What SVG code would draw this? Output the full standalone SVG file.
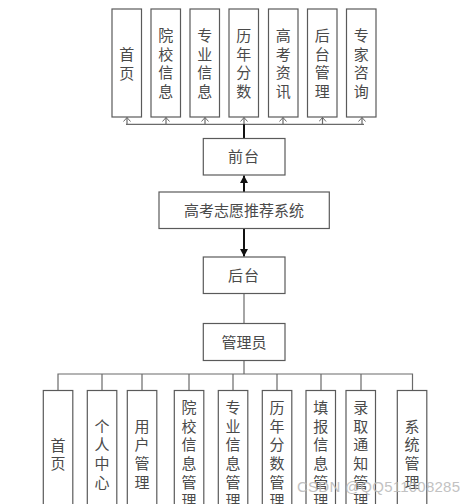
<svg xmlns="http://www.w3.org/2000/svg" width="474" height="504" viewBox="0 0 474 504">
<style>
.box{fill:#fff;stroke:#5a5a5a;stroke-width:1.2}
.t{font-family:"Noto Sans CJK SC","Noto Sans",sans-serif;font-size:15px;fill:#4a4a4a;text-anchor:middle}
.thin{fill:none;stroke:#6a6a6a;stroke-width:1.2}
.bold{fill:none;stroke:#111;stroke-width:2}
.wm{font-family:"Liberation Sans",Arial,sans-serif;font-size:15px;fill:#b8b8b8;opacity:0.85}
</style>
<defs>
<marker id="open" markerWidth="8" markerHeight="8" refX="7" refY="4" orient="auto" markerUnits="userSpaceOnUse" viewBox="0 0 8 8">
<path d="M3,0.5 L7,4 L3,7.5" fill="none" stroke="#6a6a6a" stroke-width="1"/>
</marker>
<marker id="solid" markerWidth="8" markerHeight="9" refX="7.5" refY="4.5" orient="auto" markerUnits="userSpaceOnUse" viewBox="0 0 8 9">
<path d="M0,0.5 L7.5,4.5 L0,8.5 Z" fill="#111"/>
</marker>
</defs>
<rect width="474" height="504" fill="#fff"/>

<g id="connectors">
<path class="thin" d="M126,124.3 H364"/>
<path class="thin" d="M127,124.3 V117.5" marker-end="url(#open)"/>
<path class="thin" d="M166,124.3 V117.5" marker-end="url(#open)"/>
<path class="thin" d="M205,124.3 V117.5" marker-end="url(#open)"/>
<path class="thin" d="M244,124.3 V117.5" marker-end="url(#open)"/>
<path class="thin" d="M283,124.3 V117.5" marker-end="url(#open)"/>
<path class="thin" d="M322.5,124.3 V117.5" marker-end="url(#open)"/>
<path class="thin" d="M362,124.3 V117.5" marker-end="url(#open)"/>
<path class="bold" d="M244,124.3 V138.5"/>
<path class="bold" d="M244,192 V175.5" marker-end="url(#solid)"/>
<path class="bold" d="M244,228.5 V256.5" marker-end="url(#solid)"/>
<path class="thin" d="M244,293.5 V323.5"/>
<path class="thin" d="M244,360.5 V374 M58,390.5 V374 H412.5 V390.5 M102,374 V390.5 M142,374 V390.5 M189,374 V390.5 M233,374 V390.5 M277,374 V390.5 M321,374 V390.5 M361,374 V390.5"/>
</g>

<g id="top-1"><rect class="box" x="112" y="9" width="29.5" height="108"/><text class="t"><tspan x="126.8" y="60">首</tspan><tspan x="126.8" dy="18.7">页</tspan></text></g>
<g id="top-2"><rect class="box" x="151" y="9" width="29.5" height="108"/><text class="t"><tspan x="165.8" y="41">院</tspan><tspan x="165.8" dy="18.7">校</tspan><tspan x="165.8" dy="18.7">信</tspan><tspan x="165.8" dy="18.7">息</tspan></text></g>
<g id="top-3"><rect class="box" x="190" y="9" width="29.5" height="108"/><text class="t"><tspan x="204.8" y="41">专</tspan><tspan x="204.8" dy="18.7">业</tspan><tspan x="204.8" dy="18.7">信</tspan><tspan x="204.8" dy="18.7">息</tspan></text></g>
<g id="top-4"><rect class="box" x="229" y="9" width="29.5" height="108"/><text class="t"><tspan x="243.8" y="41">历</tspan><tspan x="243.8" dy="18.7">年</tspan><tspan x="243.8" dy="18.7">分</tspan><tspan x="243.8" dy="18.7">数</tspan></text></g>
<g id="top-5"><rect class="box" x="268.5" y="9" width="29.5" height="108"/><text class="t"><tspan x="283.3" y="41">高</tspan><tspan x="283.3" dy="18.7">考</tspan><tspan x="283.3" dy="18.7">资</tspan><tspan x="283.3" dy="18.7">讯</tspan></text></g>
<g id="top-6"><rect class="box" x="307.5" y="9" width="29.5" height="108"/><text class="t"><tspan x="322.3" y="41">后</tspan><tspan x="322.3" dy="18.7">台</tspan><tspan x="322.3" dy="18.7">管</tspan><tspan x="322.3" dy="18.7">理</tspan></text></g>
<g id="top-7"><rect class="box" x="346.5" y="9" width="29.5" height="108"/><text class="t"><tspan x="361.3" y="41">专</tspan><tspan x="361.3" dy="18.7">家</tspan><tspan x="361.3" dy="18.7">咨</tspan><tspan x="361.3" dy="18.7">询</tspan></text></g>

<g id="qiantai"><rect class="box" x="203.3" y="138.5" width="81.7" height="36.5"/><text class="t" x="244" y="162" letter-spacing="1">前台</text></g>
<g id="system"><rect class="box" x="159" y="192" width="170.3" height="36.5"/><text class="t" x="244" y="215.5">高考志愿推荐系统</text></g>
<g id="houtai"><rect class="box" x="203.3" y="257" width="81.7" height="36.5"/><text class="t" x="244" y="280.5" letter-spacing="1">后台</text></g>
<g id="admin"><rect class="box" x="203.3" y="323.5" width="81.7" height="37"/><text class="t" x="244" y="347.5">管理员</text></g>

<g id="b-1"><rect class="box" x="43.3" y="390.5" width="29.5" height="130"/><text class="t"><tspan x="58" y="450.5">首</tspan><tspan x="58" dy="18.7">页</tspan></text></g>
<g id="b-2"><rect class="box" x="87.3" y="390.5" width="29.5" height="130"/><text class="t"><tspan x="102" y="431.5">个</tspan><tspan x="102" dy="18.7">人</tspan><tspan x="102" dy="18.7">中</tspan><tspan x="102" dy="18.7">心</tspan></text></g>
<g id="b-3"><rect class="box" x="127.3" y="390.5" width="29.5" height="130"/><text class="t"><tspan x="142" y="431.5">用</tspan><tspan x="142" dy="18.7">户</tspan><tspan x="142" dy="18.7">管</tspan><tspan x="142" dy="18.7">理</tspan></text></g>
<g id="b-4"><rect class="box" x="174.3" y="390.5" width="29.5" height="130"/><text class="t"><tspan x="189" y="412.8">院</tspan><tspan x="189" dy="18.7">校</tspan><tspan x="189" dy="18.7">信</tspan><tspan x="189" dy="18.7">息</tspan><tspan x="189" dy="18.7">管</tspan><tspan x="189" dy="18.7">理</tspan></text></g>
<g id="b-5"><rect class="box" x="218.3" y="390.5" width="29.5" height="130"/><text class="t"><tspan x="233" y="412.8">专</tspan><tspan x="233" dy="18.7">业</tspan><tspan x="233" dy="18.7">信</tspan><tspan x="233" dy="18.7">息</tspan><tspan x="233" dy="18.7">管</tspan><tspan x="233" dy="18.7">理</tspan></text></g>
<g id="b-6"><rect class="box" x="262.3" y="390.5" width="29.5" height="130"/><text class="t"><tspan x="277" y="412.8">历</tspan><tspan x="277" dy="18.7">年</tspan><tspan x="277" dy="18.7">分</tspan><tspan x="277" dy="18.7">数</tspan><tspan x="277" dy="18.7">管</tspan><tspan x="277" dy="18.7">理</tspan></text></g>
<g id="b-7"><rect class="box" x="306" y="390.5" width="29.5" height="130"/><text class="t"><tspan x="320.8" y="412.8">填</tspan><tspan x="320.8" dy="18.7">报</tspan><tspan x="320.8" dy="18.7">信</tspan><tspan x="320.8" dy="18.7">息</tspan><tspan x="320.8" dy="18.7">管</tspan><tspan x="320.8" dy="18.7">理</tspan></text></g>
<g id="b-8"><rect class="box" x="346" y="390.5" width="29.5" height="130"/><text class="t"><tspan x="360.8" y="412.8">录</tspan><tspan x="360.8" dy="18.7">取</tspan><tspan x="360.8" dy="18.7">通</tspan><tspan x="360.8" dy="18.7">知</tspan><tspan x="360.8" dy="18.7">管</tspan><tspan x="360.8" dy="18.7">理</tspan></text></g>
<g id="b-9"><rect class="box" x="397.3" y="390.5" width="29.5" height="130"/><text class="t"><tspan x="412" y="431.5">系</tspan><tspan x="412" dy="18.7">统</tspan><tspan x="412" dy="18.7">管</tspan><tspan x="412" dy="18.7">理</tspan></text></g>

<text class="wm" x="297" y="492" textLength="163">CSDN @QQ511008285</text>
</svg>
